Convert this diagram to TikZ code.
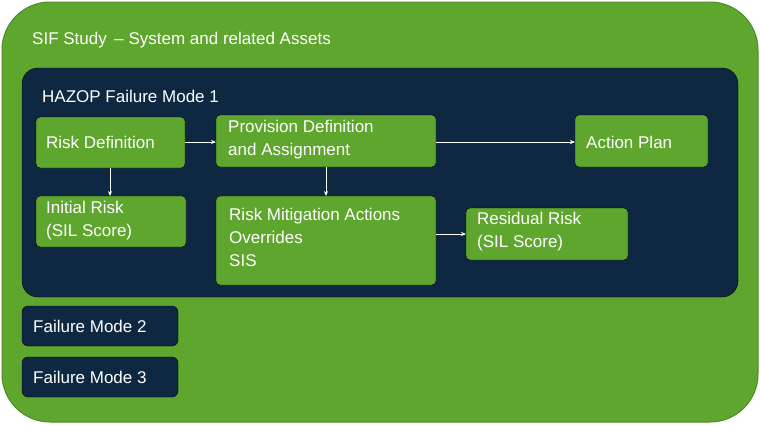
\documentclass[tikz,border=0pt]{standalone}
\usepackage{fontspec}
\setmainfont{Liberation Sans}
\usetikzlibrary{arrows.meta}
\definecolor{grn}{HTML}{5FA62E}
\definecolor{grnb}{HTML}{4E8A25}
\definecolor{navy}{HTML}{0E2841}
\begin{document}
\begin{tikzpicture}[x=1pt,y=-1pt,
  txt/.style={text=white,font=\fontsize{17}{21}\selectfont,align=left,anchor=north west,inner sep=0},
  gb/.style={fill=grn,rounded corners=4pt},
  nb/.style={fill=navy,rounded corners=6pt},
  arr/.style={draw=white,line width=0.6pt,-{Stealth[length=5pt,width=4pt]}}]
\useasboundingbox (0,0) rectangle (760,424);
\draw[fill=grn,draw=grnb,line width=1pt,rounded corners=48pt] (2,2) rectangle (758,422);
\node[txt] (t) at (32,32) {SIF Study \,– System and related Assets};
\draw[nb,rounded corners=16pt] (22,68) rectangle (738,297);
\node[txt] (h) at (42,90) {HAZOP Failure Mode 1};
\draw[gb] (36,117) rectangle (185,168);
\node[txt,anchor=west] (rd) at (46,142) {Risk Definition};
\coordinate (rdR) at (185,142); \coordinate (rdB) at (110,168);
\draw[gb] (216,115) rectangle (436,167);
\node[txt] (pd) at (228,120) {Provision Definition\\[2pt]and Assignment};
\coordinate (pdL) at (216,142); \coordinate (pdR) at (436,142); \coordinate (pdB) at (326,167);
\draw[gb] (575,115) rectangle (708,167);
\node[txt,anchor=west] (ap) at (586,142) {Action Plan};
\coordinate (apL) at (575,142);
\draw[gb] (36,196) rectangle (186,247);
\node[txt] (ir) at (46,201) {Initial Risk\\[2pt](SIL Score)};
\coordinate (irT) at (110,196);
\draw[gb] (216,196) rectangle (436,285);
\node[txt] (rm) at (229,208) {Risk Mitigation Actions\\[2pt]Overrides\\[2pt]SIS};
\coordinate (rmT) at (326,196); \coordinate (rmR) at (436,234);
\draw[gb] (466,208) rectangle (628,260);
\node[txt] (rr) at (477,212) {Residual Risk\\[2pt](SIL Score)};
\coordinate (rrL) at (466,234);
\draw[arr] (rdR) -- (pdL);
\draw[arr] (pdR) -- (apL);
\draw[arr] (rdB) -- (irT);
\draw[arr] (pdB) -- (rmT);
\draw[arr] (rmR) -- (rrL);
\draw[nb] (22,306) rectangle (178,346);
\node[txt,anchor=west] (f2) at (33,326) {Failure Mode 2};
\draw[nb] (22,357) rectangle (178,397);
\node[txt,anchor=west] (f3) at (33,377) {Failure Mode 3};
\end{tikzpicture}
\end{document}
